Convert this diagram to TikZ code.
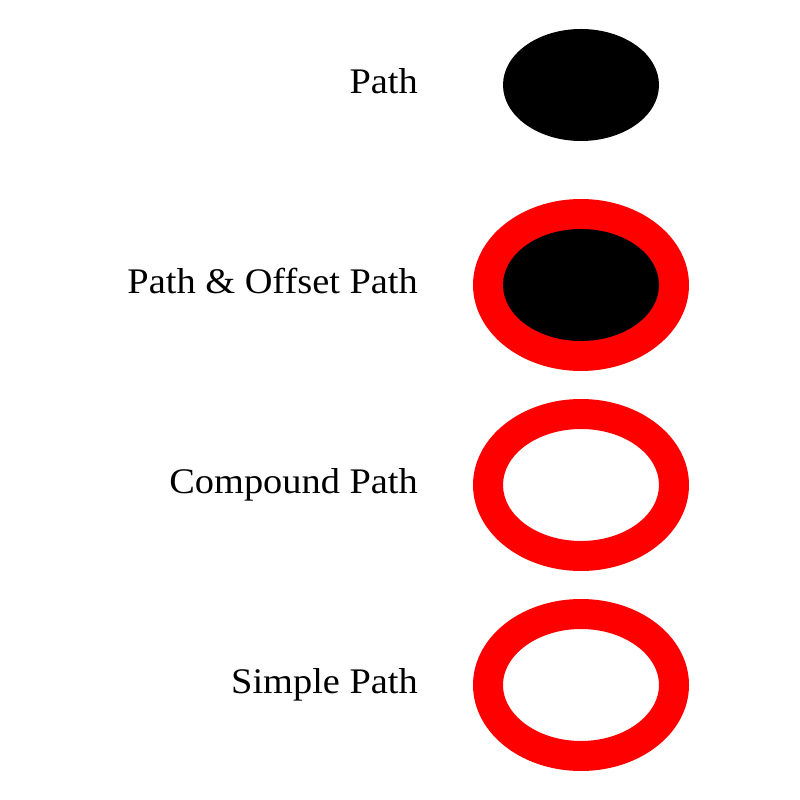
\documentclass[tikz,border=0pt]{standalone}
\usepackage{fontspec}
\setmainfont{Liberation Serif}
\begin{document}
\begin{tikzpicture}[x=1pt,y=1pt,
  lbl/.style={anchor=base east,inner sep=0pt,xscale=1.066,font=\fontsize{36}{40}\selectfont},
  blackfill/.style={fill=black,draw=none},
  redfill/.style={fill=red,draw=none}]
\useasboundingbox[fill=white] (0,0) rectangle (800,800);
% row 1
\node[lbl] (l1) at (418,706) {Path};
\fill[blackfill] (581,715) ellipse [x radius=78,y radius=56];
% row 2
\node[lbl] (l2) at (418,506) {Path \& Offset Path};
\fill[redfill] (581,515) ellipse [x radius=108,y radius=86];
\fill[blackfill] (581,515) ellipse [x radius=78,y radius=56];
% row 3
\node[lbl] (l3) at (418,306) {Compound Path};
\fill[redfill,even odd rule] (581,315) ellipse [x radius=108,y radius=86]
  (581,315) ellipse [x radius=78,y radius=56];
% row 4
\node[lbl] (l4) at (418,106) {Simple Path};
\draw[red,line width=30] (581,115) ellipse [x radius=93,y radius=71];
\end{tikzpicture}
\end{document}
